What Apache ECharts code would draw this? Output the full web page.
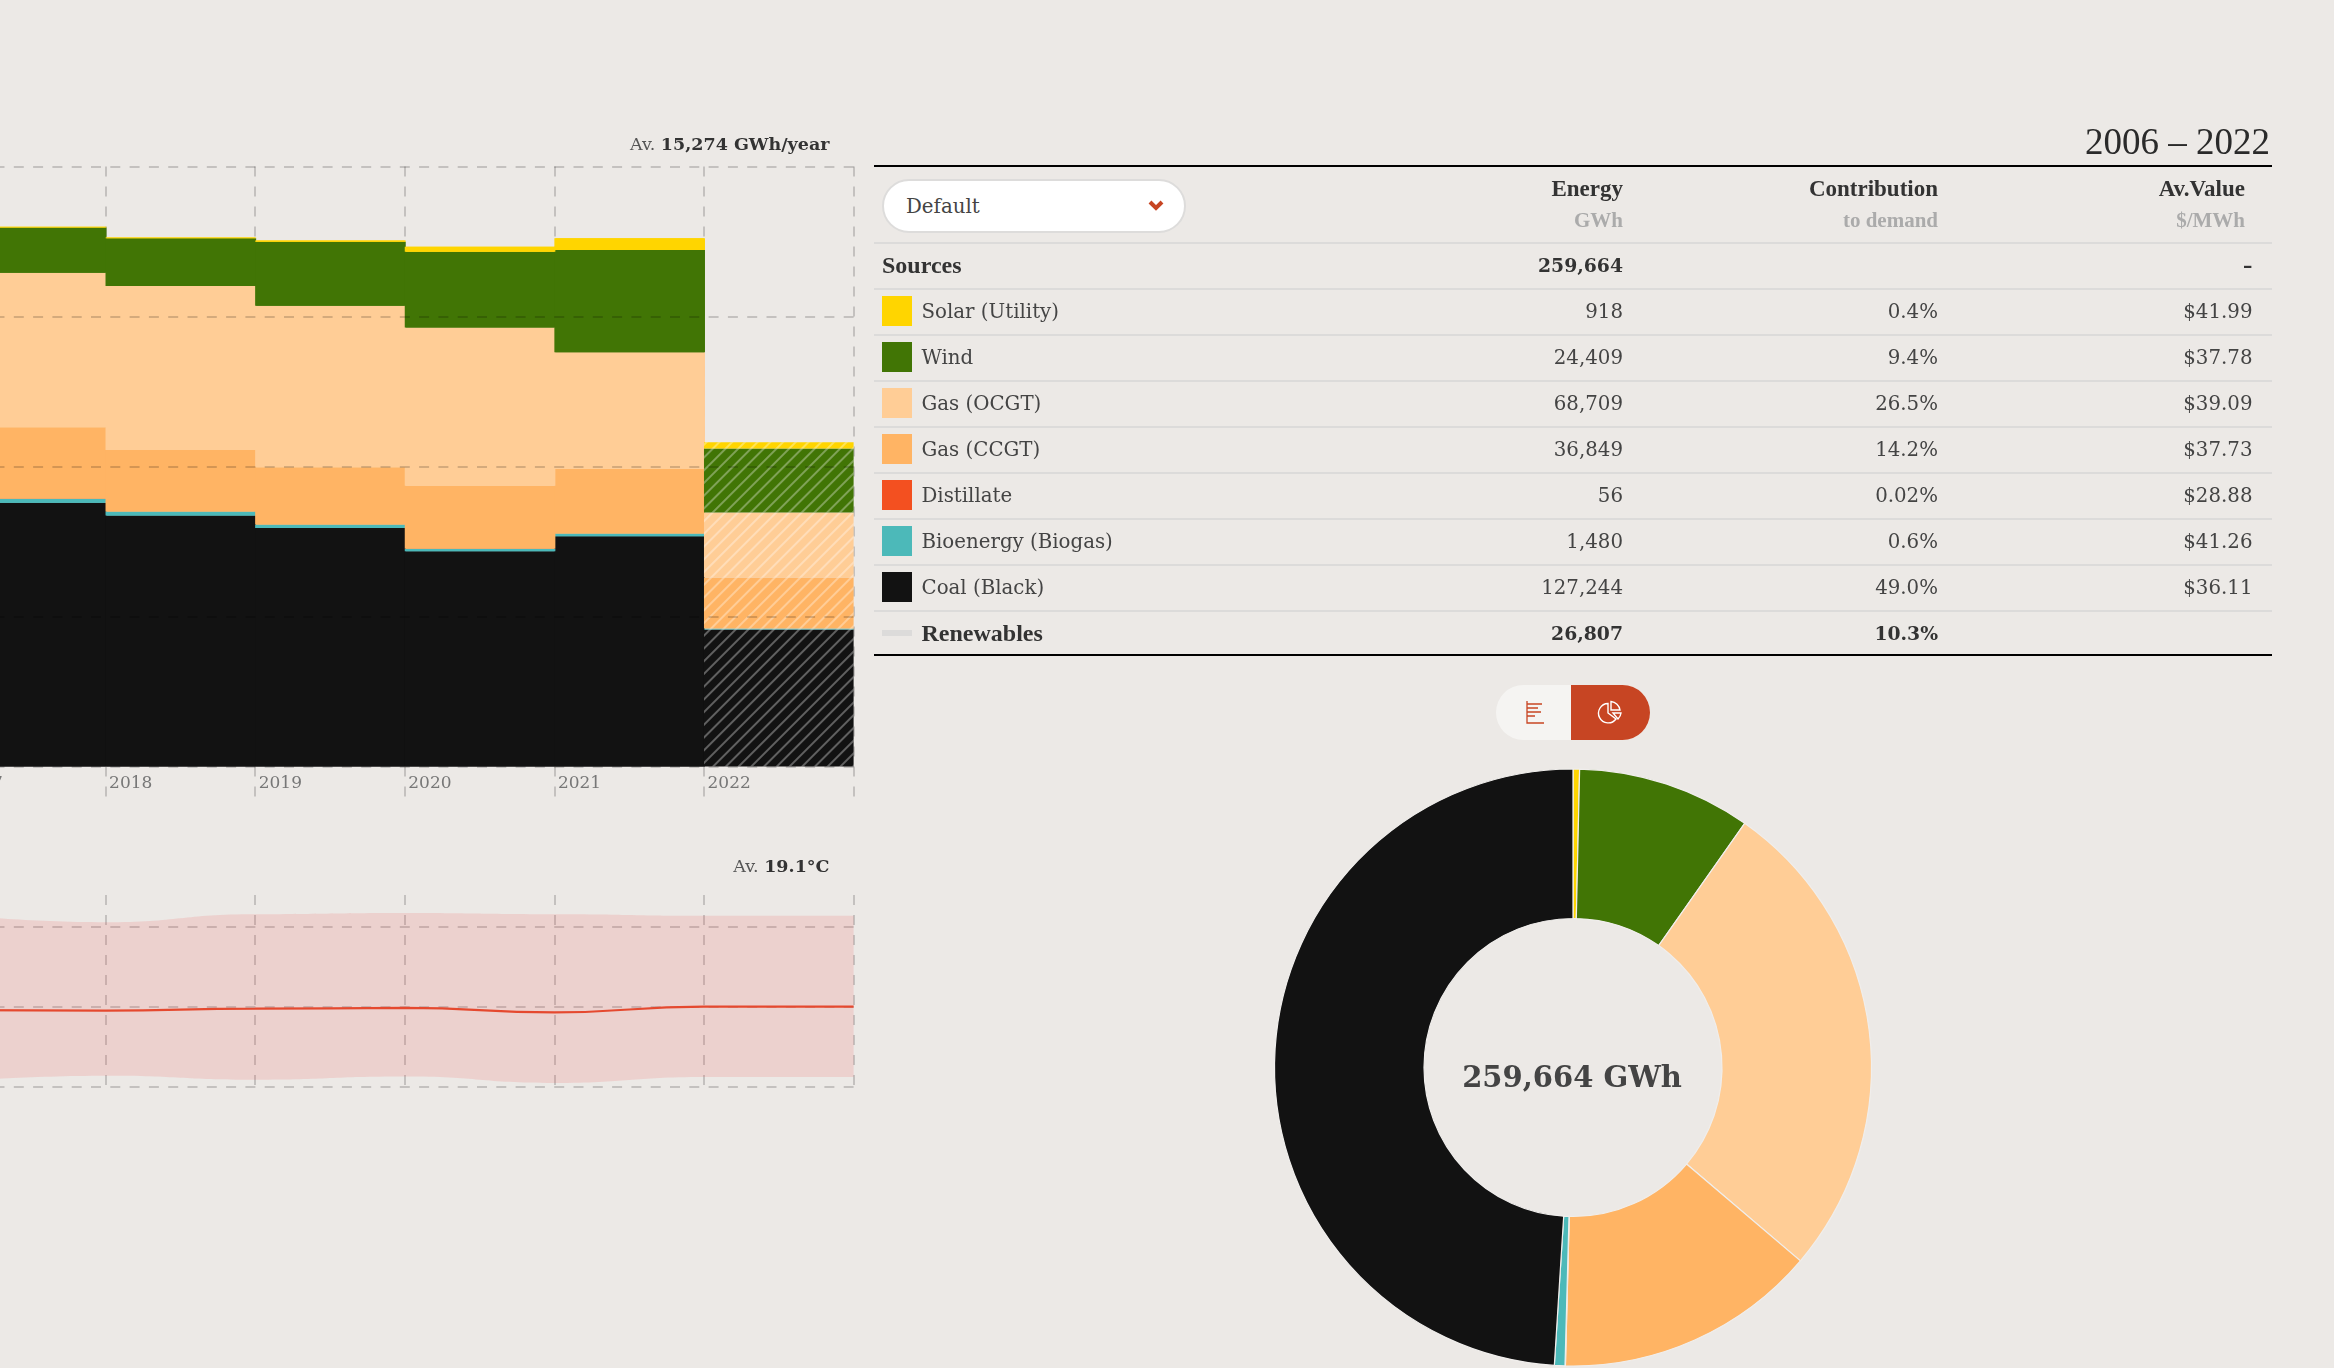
<!DOCTYPE html>
<html><head><meta charset="utf-8">
<script src="https://cdn.jsdelivr.net/npm/echarts@6/dist/echarts.min.js"></script>
<style>
html,body{margin:0;padding:0;background:#ECE9E6;width:2334px;height:1368px;overflow:hidden}
#chart{position:absolute;left:-100px;top:0;width:2434px;height:1368px}
.abs{position:absolute;white-space:nowrap}
body{font-family:"DejaVu Serif",serif;color:#444}
.note{font-size:17.5px;line-height:20px;text-align:right;color:#555;right:1504.5px}
.note b{color:#333}
#title{right:64px;top:120px;font-family:"Liberation Serif",serif;font-size:37px;line-height:44px;color:#2a2a2a}
#tbl{position:absolute;left:874px;top:165px;width:1398px;height:491px;border-top:2px solid #000;border-bottom:2px solid #000;box-sizing:border-box}
.row{position:absolute;left:0;right:0;height:46px;border-top:2px solid #DCDBDA;box-sizing:border-box;font-size:19.8px;line-height:43px}
.cell{position:absolute;top:0;white-space:nowrap}
.lab{left:47.5px}.e{right:649px}.c{right:334px}.v{right:19.5px}
.sw{position:absolute;left:8px;top:6px;width:30px;height:30px}
.bold{font-weight:bold;color:#333;font-size:18.8px}
.pf{font-family:"Liberation Serif",serif;font-weight:bold;font-size:24px;color:#333}
.hd{position:absolute;text-align:right;font-family:"Liberation Serif",serif;font-weight:bold;white-space:nowrap;font-size:23px;line-height:24px;color:#333}
.hd span{display:block;color:#ABABAB;font-size:21px;margin-top:7px;line-height:24px}
#sel{position:absolute;left:882px;top:179px;width:304px;height:54px;background:#fff;border:2px solid #DDDCDB;border-radius:27px;box-sizing:border-box;font-size:19.8px;line-height:52px;padding-left:22px;color:#444}
#tog{position:absolute;left:1496px;top:685px;width:154px;height:55px;border-radius:27.5px;overflow:hidden;background:#F5F4F2}
#tog i{position:absolute;left:75px;top:0;width:79px;height:55px;background:#C74523}
</style></head><body>
<div id="chart"></div>
<div class="abs note" style="top:134px">Av. <b>15,274 GWh/year</b></div>
<div class="abs note" style="top:856px">Av. <b>19.1°C</b></div>
<div class="abs" id="title">2006 – 2022</div>
<div id="tbl"></div>
<div id="sel">Default<svg style="position:absolute;left:264px;top:17px" width="16" height="14" viewBox="0 0 16 14"><path d="M2 4 L8 10 L14 4" fill="none" stroke="#C74523" stroke-width="4"/></svg></div>
<div id="tog"><i></i>
<svg style="position:absolute;left:28px;top:14px" width="24" height="28" viewBox="0 0 24 28"><g stroke="#C74523" fill="none" stroke-width="1.3"><path d="M3 2V24H20"/><path d="M3 5H18M3 9H14M3 13H17" /><path d="M3 17H11" /></g></svg>
<svg style="position:absolute;left:100px;top:14px" width="28" height="28" viewBox="0 0 28 28" fill="none" stroke="#fff" stroke-width="1.4"><path d="M12 4.5A9.7 9.7 0 1 0 20 20L12 14Z"/><path d="M15 2.5A10 10 0 0 1 24 11H15Z"/><path d="M17 14H25A10 10 0 0 1 22 20Z"/></svg>
</div>
<script>
// ---------- data ----------
const years = ['2017','2018','2019','2020','2021','2022'];
const coal       = [8794, 8363, 7946, 7172, 7678, 4568];
const bioenergy  = [134, 134, 119, 89, 89, 30];
const distillate = [3, 3, 3, 3, 3, 3];
const ccgt       = [2381, 2053, 1905, 2098, 2143, 1696];
const ocgt       = [5148, 5461, 5387, 5268, 3899, 2172];
const wind       = [1503, 1592, 2128, 2530, 3408, 2128];
const solar      = [30, 30, 45, 164, 387, 208];

const tempYears = ['2017','2018','2019','2020','2021','2022','2023'];
const tempUpper = [31.5, 30.6, 31.6, 31.75, 31.6, 31.4, 31.4];
const tempLower = [10.7, 11.4, 10.9, 11.3, 10.5, 11.25, 11.25];
const tempMean  = [19.6, 19.55, 19.8, 19.88, 19.33, 20.04, 20.04];

const sourceNames  = ['Solar (Utility)','Wind','Gas (OCGT)','Gas (CCGT)','Distillate','Bioenergy (Biogas)','Coal (Black)'];
const sourceEnergy = [918, 24409, 68709, 36849, 56, 1480, 127244];
const sourceShare  = ['0.4%','9.4%','26.5%','14.2%','0.02%','0.6%','49.0%'];
const sourceValue  = ['$41.99','$37.78','$39.09','$37.73','$28.88','$41.26','$36.11'];
const sourceColors = ['#FFD500','#417505','#FFCD96','#FFB464','#F35020','#4CB9B9','#121212'];

const totalLabel = '259,664';
const renewables = ['26,807','10.3%'];

// ---------- table ----------
const tbl = document.getElementById('tbl');
function addRow(i, html){
  const d = document.createElement('div');
  d.className = 'row';
  d.style.top = (75 + i*46) + 'px';
  d.innerHTML = html; tbl.appendChild(d);
}
function hd(right, a, b){
  const d=document.createElement('div'); d.className='hd'; d.style.right=right+'px'; d.style.top='10px';
  d.innerHTML=a+'<span>'+b+'</span>'; tbl.appendChild(d);
}
hd(649,'Energy','GWh'); hd(334,'Contribution','to demand'); hd(27,'Av.Value','$/MWh');
addRow(0,'<div class="cell pf" style="left:8px">Sources</div><div class="cell e bold">'+totalLabel+'</div><div class="cell v bold" style="right:19.5px">–</div>');
sourceNames.forEach((n,i)=>{
  addRow(i+1,'<div class="sw" style="background:'+sourceColors[i]+'"></div><div class="cell lab">'+n+'</div>'+
   '<div class="cell e">'+sourceEnergy[i].toLocaleString('en-US')+'</div><div class="cell c">'+sourceShare[i]+'</div><div class="cell v">'+sourceValue[i]+'</div>');
});
addRow(8,'<div class="sw" style="background:#DCDBDA;height:6px;top:18px"></div><div class="cell pf lab">Renewables</div><div class="cell e bold">'+renewables[0]+'</div><div class="cell c bold">'+renewables[1]+'</div>');

// ---------- chart ----------
const dashCol = 'rgba(0,0,0,0.17)';
const dash = {type:[10,9.3], color:dashCol, width:2};
const vdash = {type:[10,10], color:dashCol, width:2};
const serif = '"DejaVu Serif",serif';
const hatch = {symbol:'rect', symbolSize:1, dashArrayX:[1,0], dashArrayY:[2,7], rotation:-Math.PI/4, color:'rgba(255,255,255,0.33)'};
const withHatch = arr => arr.map((v,i)=> i===arr.length-1 ? {value:v, itemStyle:{decal:hatch, shadowColor:'transparent', shadowOffsetX:0}} : v);
const barSeries = [
  ['Coal (Black)',coal,6],['Bioenergy (Biogas)',bioenergy,5],['Distillate',distillate,4],
  ['Gas (CCGT)',ccgt,3],['Gas (OCGT)',ocgt,2],['Wind',wind,1],['Solar (Utility)',solar,0]
].map(([name,arr,ci])=>({
  type:'bar', name, stack:'e', xAxisIndex:0, yAxisIndex:0, barWidth:'100%',
  // a 1px same-colour offset hides the antialiased seam between neighbouring bars
  itemStyle:{color:sourceColors[ci], shadowColor:sourceColors[ci], shadowBlur:0, shadowOffsetX:1}, data:withHatch(arr), silent:true
}));
const option = {
  animation:false,
  backgroundColor:'#ECE9E6',
  grid:[
    {left:55.9, top:166.5, width:897.7, height:600},
    {left:55.9, top:895, width:897.7, height:192}
  ],
  xAxis:[
    {type:'category', gridIndex:0, data:years, boundaryGap:true,
     axisLine:{show:false},
     axisTick:{show:true, length:38, lineStyle:vdash},
     splitLine:{show:true, interval:0, lineStyle:vdash},
     axisLabel:{interval:0, align:'right', padding:[0,28,0,0], margin:9, color:'#777', fontFamily:serif, fontSize:17}},
    {type:'category', gridIndex:1, data:tempYears, boundaryGap:false, z:3,
     axisLine:{show:false}, axisTick:{show:false}, axisLabel:{show:false},
     splitLine:{show:true, interval:0, lineStyle:vdash}}
  ],
  yAxis:[
    {type:'value', gridIndex:0, min:0, max:20000, interval:5000, z:5,
     axisLine:{show:false}, axisTick:{show:false}, axisLabel:{show:false},
     splitLine:{show:true, lineStyle:dash}},
    {type:'value', gridIndex:1, min:10, max:34, interval:10, z:3,
     axisLine:{show:false}, axisTick:{show:false}, axisLabel:{show:false},
     splitLine:{show:true, showMaxLine:false, lineStyle:dash}}
  ],
  series:[
    ...barSeries,
    {type:'line', name:'low', stack:'t', xAxisIndex:1, yAxisIndex:1, data:tempLower, smooth:0.5, smoothMonotone:'x', showSymbol:false, lineStyle:{width:0}, silent:true},
    {type:'line', name:'range', stack:'t', xAxisIndex:1, yAxisIndex:1, data:tempUpper.map((u,i)=>u-tempLower[i]), smooth:0.5, smoothMonotone:'x', showSymbol:false, lineStyle:{width:0}, areaStyle:{color:'rgba(242,73,76,0.15)', opacity:1}, silent:true},
    {type:'line', name:'mean', xAxisIndex:1, yAxisIndex:1, data:tempMean, smooth:0.5, smoothMonotone:'x', showSymbol:false, lineStyle:{width:2.2, color:'#E5492F'}, silent:true},
    {type:'pie', center:[1673,1067.5], radius:[149,298.5], startAngle:90, clockwise:true,
     label:{show:false}, labelLine:{show:false}, silent:true,
     itemStyle:{borderColor:'#F0EEEC', borderWidth:1.2},
     data:sourceNames.map((n,i)=>({name:n, value:sourceEnergy[i], itemStyle:{color:sourceColors[i]}}))}
  ],
  graphic:[{type:'text', x:1672, y:1079, style:{text:totalLabel+' GWh', fill:'#444', font:'bold 29px "DejaVu Serif",serif', textAlign:'center', textVerticalAlign:'middle'}}]
};
echarts.init(document.getElementById('chart')).setOption(option);
</script>
</body></html>
